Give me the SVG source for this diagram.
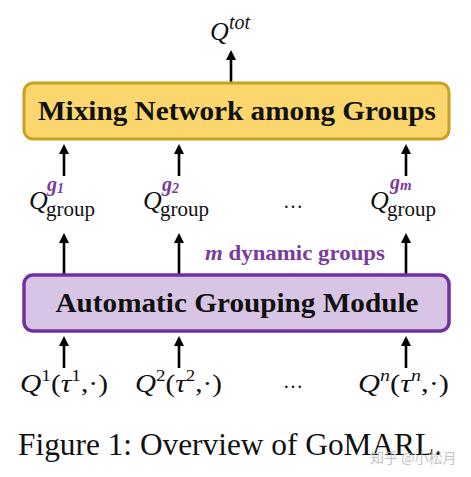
<svg xmlns="http://www.w3.org/2000/svg" width="471" height="477" viewBox="0 0 471 477">
<defs>
<marker id="ah" markerWidth="10" markerHeight="10" refX="5" refY="5" orient="auto" markerUnits="userSpaceOnUse" viewBox="0 0 10 10">
<path d="M0,0 L10,5 L0,10 z" fill="#000"/>
</marker>
</defs>
<style>
.conn{stroke:#000;stroke-width:2.6;fill:none}
.box{font-family:"Liberation Serif","DejaVu Serif",serif;font-size:27px;font-weight:bold;fill:#111}
.m{font-family:"Liberation Serif","DejaVu Serif",serif;fill:#111}
.Q{font-style:italic;font-size:26px}
.sub{font-size:21px}
.sup{font-style:italic;font-size:20px}
.g{font-family:"Liberation Serif","DejaVu Serif",serif;font-style:italic;font-weight:bold;font-size:20px;fill:#7a3b9e}
.purple{font-family:"Liberation Serif","DejaVu Serif",serif;font-size:21px;font-weight:bold;fill:#7a3b9e}
.cap{font-family:"Liberation Serif","Times New Roman",serif;font-size:32px;fill:#111}
</style>
<rect width="471" height="477" fill="#fff"/>
<g id="connectors">
<line class="conn" x1="231" y1="82" x2="231" y2="55" marker-end="url(#ah)"/>
<line class="conn" x1="64" y1="176" x2="64" y2="149" marker-end="url(#ah)"/>
<line class="conn" x1="179" y1="176" x2="179" y2="149" marker-end="url(#ah)"/>
<line class="conn" x1="406" y1="176" x2="406" y2="149" marker-end="url(#ah)"/>
<line class="conn" x1="64" y1="274" x2="64" y2="238" marker-end="url(#ah)"/>
<line class="conn" x1="179" y1="274" x2="179" y2="238" marker-end="url(#ah)"/>
<line class="conn" x1="406" y1="274" x2="406" y2="238" marker-end="url(#ah)"/>
<line class="conn" x1="64" y1="368" x2="64" y2="341" marker-end="url(#ah)"/>
<line class="conn" x1="179" y1="368" x2="179" y2="341" marker-end="url(#ah)"/>
<line class="conn" x1="406" y1="368" x2="406" y2="341" marker-end="url(#ah)"/>
</g>
<g id="qtot">
<text class="m Q" x="210" y="40">Q</text>
<text class="m sup" x="229" y="29">tot</text>
</g>
<g id="mixing">
<rect x="24" y="83" width="425" height="56" rx="9" fill="#fbd66c" stroke="#c9a020" stroke-width="3"/>
<text class="box" x="237" y="120" text-anchor="middle" textLength="398" lengthAdjust="spacingAndGlyphs">Mixing Network among Groups</text>
</g>
<g id="qg1">
<text class="m Q" x="29" y="209">Q</text>
<text class="g" x="47" y="191">g<tspan font-size="14" dy="2">1</tspan></text>
<text class="m sub" x="46" y="216">group</text>
</g>
<g id="qg2">
<text class="m Q" x="143" y="209">Q</text>
<text class="g" x="162" y="191">g<tspan font-size="14" dy="2">2</tspan></text>
<text class="m sub" x="160" y="216">group</text>
</g>
<g id="dots1"><text class="m" x="293" y="208" font-size="20" text-anchor="middle">…</text></g>
<g id="qgm">
<text class="m Q" x="370" y="209">Q</text>
<text class="g" x="390" y="189">g<tspan font-size="15" dy="1">m</tspan></text>
<text class="m sub" x="387" y="216">group</text>
</g>
<g id="dyn"><text class="purple" x="205" y="260" textLength="180" lengthAdjust="spacingAndGlyphs"><tspan font-style="italic">m</tspan> dynamic groups</text></g>
<g id="agm">
<rect x="24" y="275" width="425" height="56" rx="9" fill="#d8c5e6" stroke="#7030a0" stroke-width="3.5"/>
<text class="box" x="237" y="312" text-anchor="middle" textLength="363" lengthAdjust="spacingAndGlyphs">Automatic Grouping Module</text>
</g>
<g id="q1">
<text class="m" x="20" y="392" font-size="26" textLength="88" lengthAdjust="spacingAndGlyphs"><tspan font-style="italic">Q</tspan><tspan font-size="17" dy="-11">1</tspan><tspan dy="11">(</tspan><tspan font-style="italic">τ</tspan><tspan font-size="17" dy="-11">1</tspan><tspan dy="11">,·)</tspan></text>
</g>
<g id="q2">
<text class="m" x="135" y="392" font-size="26" textLength="87" lengthAdjust="spacingAndGlyphs"><tspan font-style="italic">Q</tspan><tspan font-size="17" dy="-11">2</tspan><tspan dy="11">(</tspan><tspan font-style="italic">τ</tspan><tspan font-size="17" dy="-11">2</tspan><tspan dy="11">,·)</tspan></text>
</g>
<g id="dots2"><text class="m" x="293" y="388" font-size="20" text-anchor="middle">…</text></g>
<g id="qn">
<text class="m" x="358" y="392" font-size="26" textLength="91" lengthAdjust="spacingAndGlyphs"><tspan font-style="italic">Q</tspan><tspan font-size="17" font-style="italic" dy="-11">n</tspan><tspan dy="11">(</tspan><tspan font-style="italic">τ</tspan><tspan font-size="17" font-style="italic" dy="-11">n</tspan><tspan dy="11">,·)</tspan></text>
</g>
<g id="caption">
<text class="cap" x="18" y="455" textLength="424" lengthAdjust="spacingAndGlyphs">Figure 1: Overview of GoMARL.</text>
<text x="370" y="463" font-family="'Noto Sans CJK SC',sans-serif" font-size="14" fill="#b8b8b8" fill-opacity="0.85">知乎 @小松月</text>
</g>
</svg>
